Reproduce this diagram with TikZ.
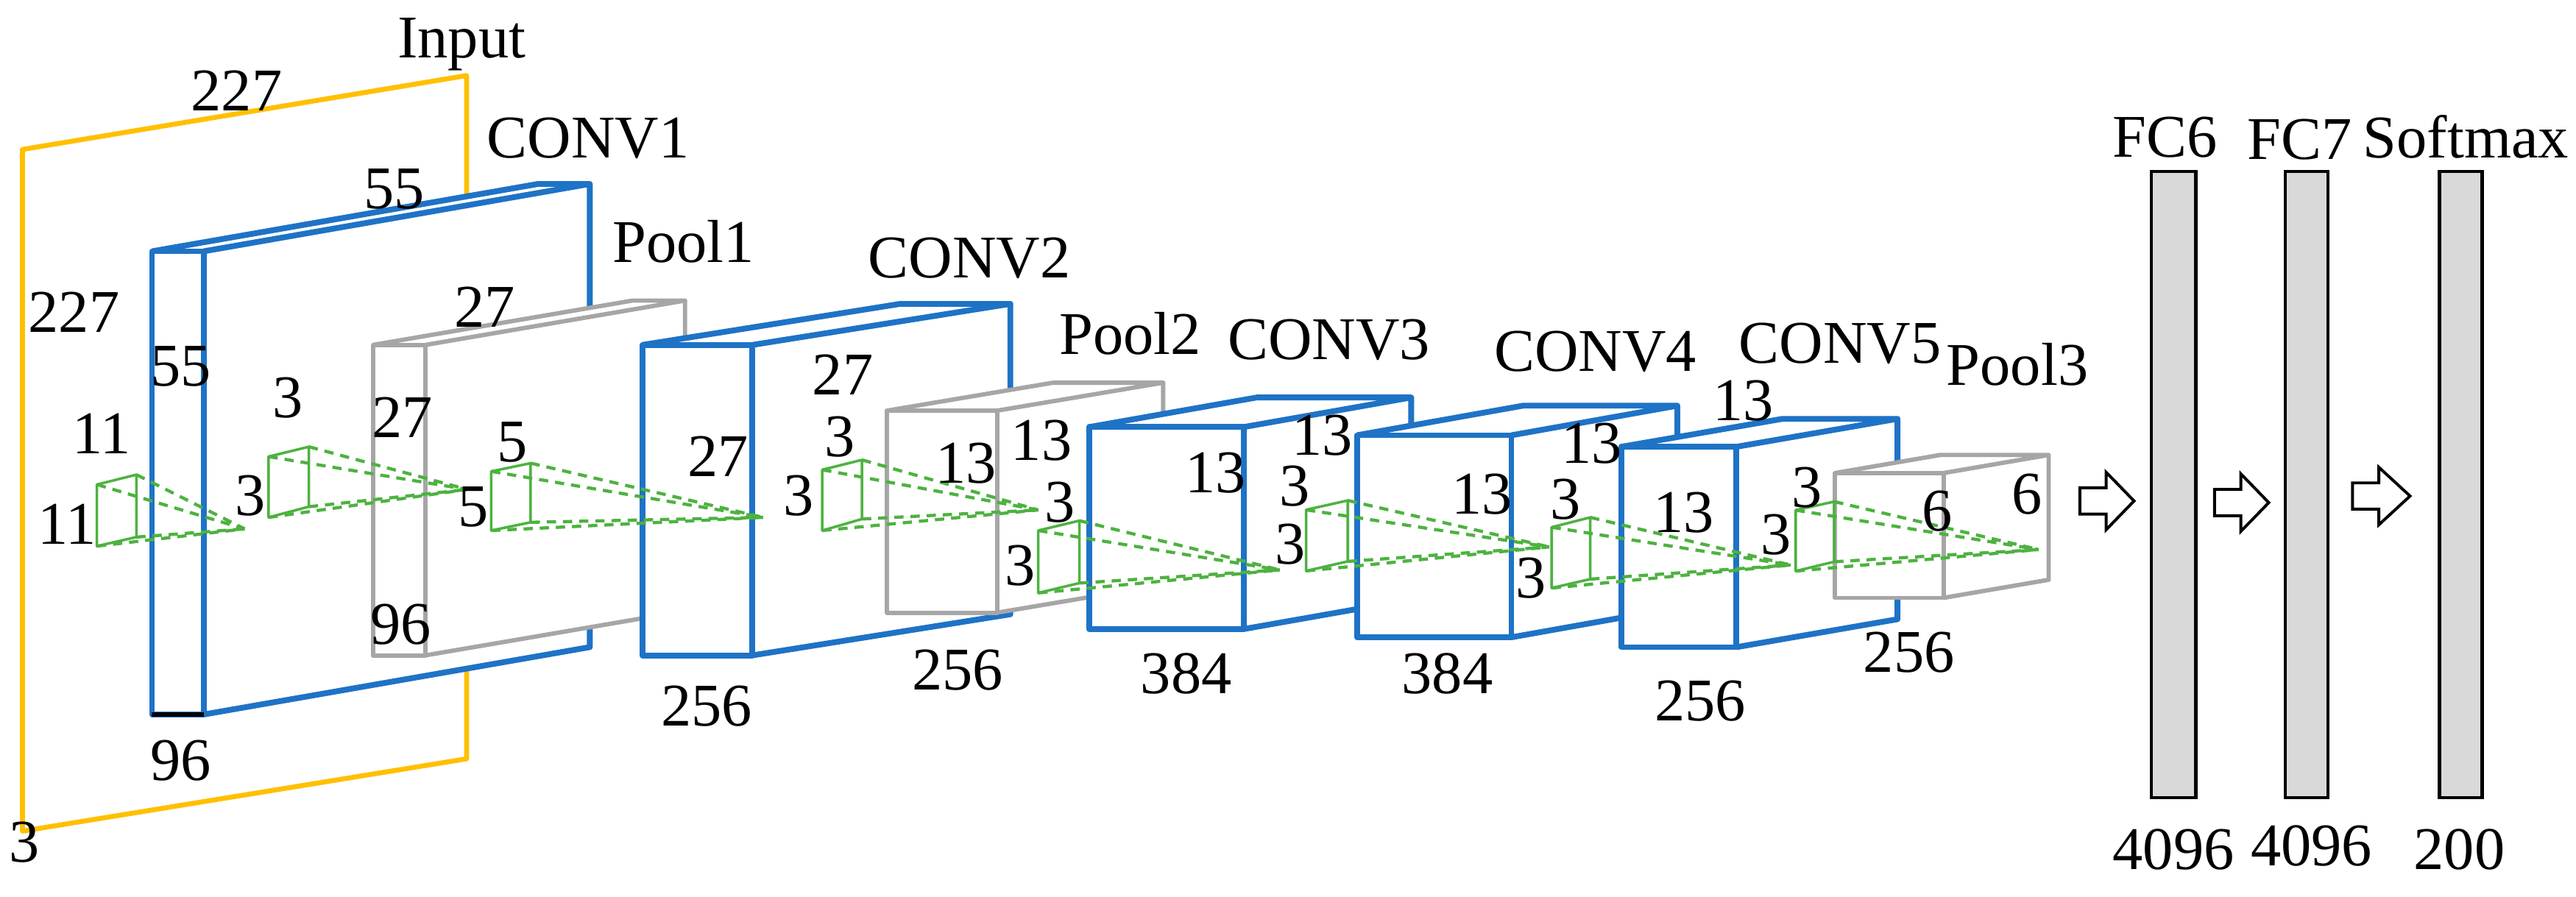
\documentclass[tikz,border=0pt]{standalone}
\usepackage{fontspec}
\setmainfont{Liberation Serif}
\definecolor{cblue}{RGB}{30,115,198}
\definecolor{cyel}{RGB}{255,192,0}
\definecolor{cgray}{RGB}{166,166,166}
\definecolor{cgreen}{RGB}{77,178,64}
\definecolor{cfc}{RGB}{217,217,217}
\newcommand\cub[7]{%
\path[fill=white] (#1,#3) -- ({#1+#5},{#3+#6}) -- ({#2+#5},{#3+#6}) -- ({#2+#5},{#4+#6}) -- (#2,#4) -- (#1,#4) -- cycle;
\draw[#7] (#1,#3) rectangle (#2,#4);
\draw[#7] (#1,#3) -- ({#1+#5},{#3+#6}) -- ({#2+#5},{#3+#6}) -- (#2,#3);
\draw[#7] ({#2+#5},{#3+#6}) -- ({#2+#5},{#4+#6}) -- (#2,#4);}
\newcommand\kernl[9]{%
\coordinate (#1a) at (#2,#3); \coordinate (#1b) at (#2,#4);
\coordinate (#1c) at (#5,#6); \coordinate (#1d) at (#5,#7);
\coordinate (#1x) at (#8,#9);
\draw[ksolid] (#1a) -- (#1c) -- (#1d) -- (#1b) -- cycle;
\draw[kdash] (#1a) -- (#1x) (#1b) -- (#1x) (#1c) -- (#1x) (#1d) -- (#1x);}
\newcommand\harrow[3]{% x0, y mid, length
\draw[black,line width=0.5pt,fill=white] (#1,{#2-8}) -- ({#1+16},{#2-8}) -- ({#1+16},{#2-17.5}) -- ({#1+#3},#2) -- ({#1+16},{#2+17.5}) -- ({#1+16},{#2+8}) -- (#1,{#2+8}) -- cycle;}
\begin{document}
\begin{tikzpicture}[x=0.01cm,y=-0.01cm,
  lbl/.style={inner sep=0pt,font=\fontsize{10.5}{12}\selectfont},
  bl/.style={cblue,line width=1pt,line join=round},
  gr/.style={cgray,line width=0.75pt,line join=round},
  ksolid/.style={cgreen,line width=0.45pt,line join=round},
  kdash/.style={cgreen,line width=0.55pt,dash pattern=on 1.6pt off 1.2pt},
  fc/.style={draw=black,fill=cfc,line width=0.6pt}]
\useasboundingbox (0,0) rectangle (1568,546);
% input plane
\draw[cyel,line width=0.85pt,line join=round] (13.7,91) -- (284,46) -- (284,462) -- (13.7,506) -- cycle;
% layers
\cub{92.5}{124}{153}{435}{235}{-41}{bl}
\draw[black,line width=0.8pt] (92.5,435) -- (124,435);
\cub{227}{259}{210}{399}{158}{-27}{gr}
\cub{391}{458}{210}{399}{157}{-25}{bl}
\cub{540}{607}{250}{373}{101}{-17}{gr}
\cub{663}{757}{260}{383}{102}{-18}{bl}
\cub{826}{920}{265}{388}{101}{-18}{bl}
\cub{987}{1057}{272}{394}{98}{-17}{bl}
\cub{1117}{1183}{288}{364}{64}{-11}{gr}
% kernels
\kernl{k1}{59}{295}{332.5}{83}{289}{327}{149}{322}
\kernl{k2}{163.5}{278}{315}{188}{272}{308.5}{284.5}{298}
\kernl{k3}{299}{287}{323}{323}{282}{318}{464.5}{315}
\kernl{k4}{500.5}{286}{323}{524.7}{280}{316}{632}{310.5}
\kernl{k5}{632}{323}{361}{657}{317}{355}{779}{347}
\kernl{k6}{795}{310.4}{347.6}{820.4}{304.7}{341.8}{943}{333}
\kernl{k7}{944.5}{321}{358}{968}{315}{352.6}{1090}{344}
\kernl{k8}{1093}{310.6}{347.7}{1116.5}{305.4}{342}{1241}{334.6}
% FC
\node[fc,minimum width=0.27cm,minimum height=3.81cm,inner sep=0pt] (fc6) at (1323,295) {};
\node[fc,minimum width=0.26cm,minimum height=3.81cm,inner sep=0pt] (fc7) at (1404,295) {};
\node[fc,minimum width=0.26cm,minimum height=3.81cm,inner sep=0pt] (sm) at (1498,295) {};
\harrow{1266}{305}{33}
\harrow{1348}{306}{33}
\harrow{1432}{302}{35}
% labels
\node[lbl] (tIn) at (281,27) {Input};
\node[lbl] (t1) at (144,55) {227};
\node[lbl] (t2) at (45,190) {227};
\node[lbl] (t3) at (15,513) {3};
\node[lbl] (tc1) at (358,84) {CONV1};
\node[lbl] (t4) at (240,115) {55};
\node[lbl] (t5) at (110,223) {55};
\node[lbl] (t6) at (110,463) {96};
\node[lbl] (t7) at (295,187) {27};
\node[lbl] (t8) at (245,254) {27};
\node[lbl] (t9) at (244,380) {96};
\node[lbl] (tp1) at (416,147) {Pool1};
\node[lbl] (tc2) at (590,157) {CONV2};
\node[lbl] (t10) at (513,228) {27};
\node[lbl] (t11) at (437,278) {27};
\node[lbl] (t12) at (430,430) {256};
\node[lbl] (tp2) at (688,203) {Pool2};
\node[lbl] (t13) at (588,282) {13};
\node[lbl] (t14) at (634,268) {13};
\node[lbl] (t15) at (583,408) {256};
\node[lbl] (tc3) at (809,207) {CONV3};
\node[lbl] (t16) at (740,288) {13};
\node[lbl] (t17) at (805,265) {13};
\node[lbl] (t18) at (722,410) {384};
\node[lbl] (tc4) at (971,214) {CONV4};
\node[lbl] (t19) at (902,301) {13};
\node[lbl] (t20) at (969,270) {13};
\node[lbl] (t21) at (881,410) {384};
\node[lbl] (tc5) at (1120,209) {CONV5};
\node[lbl] (t22) at (1061,244) {13};
\node[lbl] (t23) at (1025,312) {13};
\node[lbl] (t24) at (1035,427) {256};
\node[lbl] (tp3) at (1228,222) {Pool3};
\node[lbl] (t25) at (1179,311) {6};
\node[lbl] (t26) at (1234,301) {6};
\node[lbl] (t27) at (1162,397) {256};
\node[lbl] (k1t) at (62,264) {11};
\node[lbl] (k1l) at (41,319) {11};
\node[lbl] (k2t) at (175,242) {3};
\node[lbl] (k2l) at (152.5,302) {3};
\node[lbl] (k3t) at (312,269) {5};
\node[lbl] (k3l) at (288,308.5) {5};
\node[lbl] (k4t) at (511,266) {3};
\node[lbl] (k4l) at (486,302) {3};
\node[lbl] (k5t) at (645,306) {3};
\node[lbl] (k5l) at (621,344.5) {3};
\node[lbl] (k6t) at (788,296) {3};
\node[lbl] (k6l) at (785.5,331.5) {3};
\node[lbl] (k7t) at (953,304) {3};
\node[lbl] (k7l) at (932,352) {3};
\node[lbl] (k8t) at (1100,297) {3};
\node[lbl] (k8l) at (1081,325.6) {3};
\node[lbl] (tf6) at (1318,83.5) {FC6};
\node[lbl] (tf7) at (1400,85) {FC7};
\node[lbl] (tsm) at (1501,83.5) {Softmax};
\node[lbl] (tn1) at (1323,517) {4096};
\node[lbl] (tn2) at (1407,515) {4096};
\node[lbl] (tn3) at (1497,517) {200};
\end{tikzpicture}
\end{document}
